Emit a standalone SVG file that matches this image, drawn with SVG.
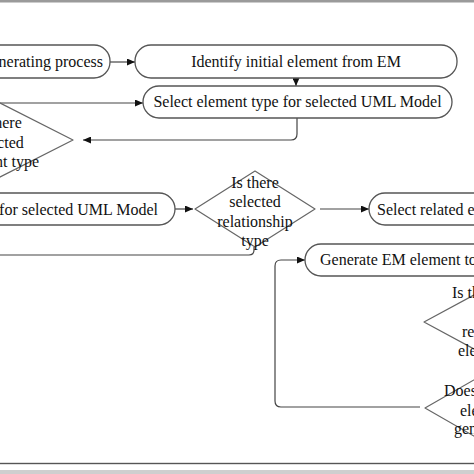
<svg xmlns="http://www.w3.org/2000/svg" width="474" height="474" viewBox="0 0 474 474">
<defs>
<style>
.box{fill:#fff;stroke:#555;stroke-width:1.3}
.dia{fill:#fff;stroke:#666;stroke-width:1.2;stroke-linejoin:round}
.t{font-family:"Liberation Serif","Times New Roman",serif;font-size:16px;fill:#111}
.m{text-anchor:middle}
.e{text-anchor:end}
.c{fill:none;stroke:#444;stroke-width:1.2}
</style>
<marker id="ah" markerUnits="userSpaceOnUse" markerWidth="8" markerHeight="7" refX="8" refY="3.5" orient="auto">
<path d="M0,0 L8,3.5 L0,7 z" fill="#111"/>
</marker>
</defs>
<rect width="474" height="474" fill="#fff"/>
<rect x="0" y="0" width="474" height="2.5" fill="#9a9a9a"/>
<rect x="0" y="462.8" width="474" height="1.4" fill="#555"/>
<rect x="0" y="470" width="474" height="4" fill="#cfcfcf"/>

<g id="connectors">
<path class="c" d="M110,62 H135" marker-end="url(#ah)"/>
<path class="c" d="M296,78 V86" marker-end="url(#ah)"/>
<path class="c" d="M0,103 H143" marker-end="url(#ah)"/>
<path class="c" d="M297,118 V134 Q297,140 291,140 H83" marker-end="url(#ah)"/>
<path class="c" d="M175,209 H193" marker-end="url(#ah)"/>
<path class="c" d="M320,209 H369" marker-end="url(#ah)"/>
<path class="c" d="M254,247 V250 Q254,255 249,255 H0"/>
<path class="c" d="M420,407 H281 Q275,407 275,401 V266 Q275,260 281,260 H305" marker-end="url(#ah)"/>
</g>

<g id="n-start">
<rect class="box" x="-200" y="45" width="310" height="33" rx="16"/>
<text class="t e" x="103" y="67">Start generating process</text>
</g>
<g id="n-identify">
<rect class="box" x="135" y="45" width="322" height="33" rx="16"/>
<text class="t m" x="296" y="67">Identify initial element from EM</text>
</g>
<g id="n-select-element">
<rect class="box" x="143" y="86" width="309" height="32" rx="16"/>
<text class="t m" x="297.5" y="107">Select element type for selected UML Model</text>
</g>
<g id="n-decision-element">
<polygon class="dia" points="-77,140 -2,102 73,140 -2,178"/>
<text class="t m" x="-2" y="128">Is there</text>
<text class="t m" x="-2" y="148">selected</text>
<text class="t m" x="-2" y="167">element type</text>
</g>
<g id="n-select-relationship">
<rect class="box" x="-320" y="193" width="495" height="32" rx="16"/>
<text class="t e" x="158" y="215">Select relationship type for selected UML Model</text>
</g>
<g id="n-decision-relationship">
<polygon class="dia" points="195,209 255,171 315,209 255,247"/>
<text class="t m" x="255" y="188">Is there</text>
<text class="t m" x="255" y="207">selected</text>
<text class="t m" x="255" y="227">relationship</text>
<text class="t m" x="255" y="246">type</text>
</g>
<g id="n-select-related">
<rect class="box" x="369" y="193" width="300" height="32" rx="16"/>
<text class="t" x="377" y="215">Select related element</text>
</g>
<g id="n-generate">
<rect class="box" x="305" y="244" width="300" height="32" rx="16"/>
<text class="t" x="320" y="265">Generate EM element to</text>
</g>
<g id="n-decision-related">
<polygon class="dia" points="424,322 500,281 576,322 500,363"/>
<text class="t" x="452" y="298">Is there</text>
<text class="t" x="462" y="337">related</text>
<text class="t" x="458" y="356">element</text>
</g>
<g id="n-decision-generated">
<polygon class="dia" points="425,408 500,365 575,408 500,451"/>
<text class="t" x="444" y="396">Does the</text>
<text class="t" x="460" y="416">element</text>
<text class="t" x="454" y="434">generated</text>
</g>
</svg>
